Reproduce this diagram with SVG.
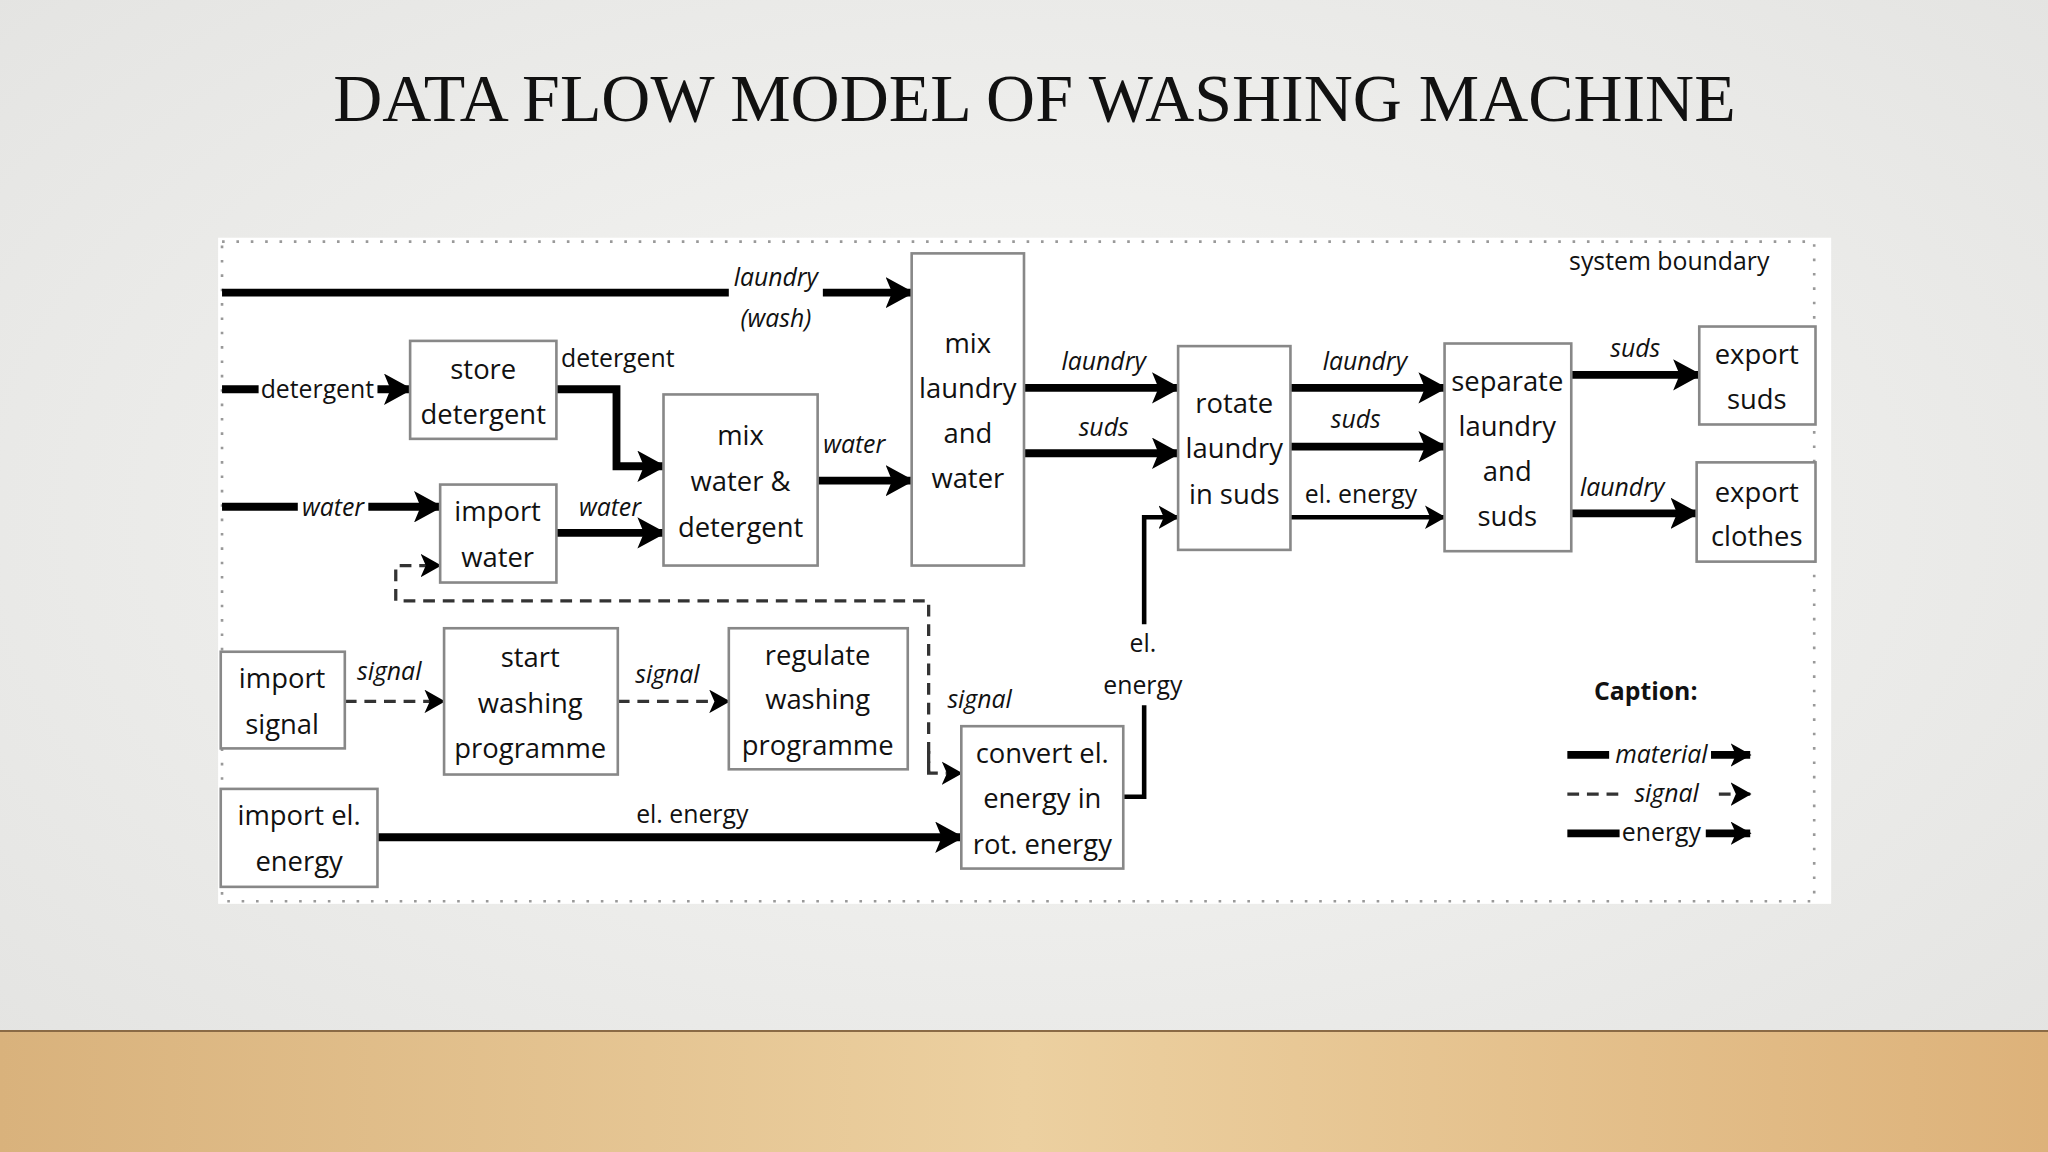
<svg xmlns="http://www.w3.org/2000/svg" width="2048" height="1152" viewBox="0 0 2048 1152">
<defs>
<radialGradient id="bg" cx="0.5" cy="0.45" r="0.75"><stop offset="0" stop-color="#f7f7f5"/><stop offset="1" stop-color="#e2e2e0"/></radialGradient>
<linearGradient id="wood" x1="0" y1="0" x2="1" y2="0"><stop offset="0" stop-color="#d9b27c"/><stop offset="0.5" stop-color="#ecd0a0"/><stop offset="1" stop-color="#ddb27a"/></linearGradient>
<marker id="ah" markerUnits="userSpaceOnUse" viewBox="0 0 22 24" refX="20" refY="12" markerWidth="22" markerHeight="24" orient="auto"><path d="M0,0 L22,12 L0,24 L5,12 Z" fill="#000"/></marker>
<marker id="as" markerUnits="userSpaceOnUse" viewBox="0 0 16 18" refX="15" refY="9" markerWidth="16" markerHeight="18" orient="auto"><path d="M0,0 L16,9 L0,18 L4,9 Z" fill="#000"/></marker>
<style>
.box{fill:#fff;stroke:#888;stroke-width:2}
.t{font-family:"Open Sans","Liberation Sans",sans-serif;font-size:21px;fill:#111;text-anchor:middle}
.l{font-family:"Open Sans","Liberation Sans",sans-serif;font-size:19px;fill:#111;text-anchor:middle}
.i{font-style:italic}
.m{stroke:#000;stroke-width:6;fill:none}
.e{stroke:#000;stroke-width:3.5;fill:none}
.s{stroke:#333;stroke-width:2.5;fill:none;stroke-dasharray:9 6}
.b{stroke:#999;stroke-width:2;fill:none;stroke-dasharray:2 9}
</style>
</defs>
<rect width="2048" height="1152" fill="url(#bg)"/>
<rect y="1030" width="2048" height="122" fill="url(#wood)"/>
<line x1="0" y1="1031" x2="2048" y2="1031" stroke="#8a6a45" stroke-width="2"/>
<g transform="scale(1.30612)">
<text x="792" y="93" font-family="Liberation Serif,serif" font-size="52" text-anchor="middle" fill="#111">DATA FLOW MODEL OF WASHING MACHINE</text>
<rect x="167" y="182" width="1235" height="510" fill="#fff"/>
<g id="boundary">
<path class="b" d="M170,185 H1389 V690 H170 Z"/>
<text class="l" x="1278" y="207">system boundary</text>
</g>
<g id="connectors">
<line class="m" x1="170" y1="224" x2="558" y2="224"/>
<line class="m" x1="630" y1="224" x2="698" y2="224" marker-end="url(#ah)"/>
<text class="l i" x="594" y="219">laundry</text><text class="l i" x="594" y="250">(wash)</text>
<line class="m" x1="170" y1="298" x2="198" y2="298"/>
<line class="m" x1="289" y1="298" x2="314" y2="298" marker-end="url(#ah)"/>
<text class="l" x="243" y="305">detergent</text>
<path class="m" d="M426,298 H472 V357 H508" marker-end="url(#ah)"/>
<text class="l" x="473" y="281">detergent</text>
<line class="m" x1="170" y1="388" x2="228" y2="388"/>
<line class="m" x1="282" y1="388" x2="337" y2="388" marker-end="url(#ah)"/>
<text class="l i" x="255" y="395">water</text>
<line class="m" x1="426" y1="408" x2="508" y2="408" marker-end="url(#ah)"/>
<text class="l i" x="467" y="395">water</text>
<line class="m" x1="626" y1="368" x2="698" y2="368" marker-end="url(#ah)"/>
<text class="l i" x="654" y="347">water</text>
<line class="m" x1="784" y1="297" x2="902" y2="297" marker-end="url(#ah)"/>
<text class="l i" x="845" y="283">laundry</text>
<line class="m" x1="784" y1="347" x2="902" y2="347" marker-end="url(#ah)"/>
<text class="l i" x="845" y="334">suds</text>
<line class="m" x1="988" y1="297" x2="1106" y2="297" marker-end="url(#ah)"/>
<text class="l i" x="1045" y="283">laundry</text>
<line class="m" x1="988" y1="342" x2="1106" y2="342" marker-end="url(#ah)"/>
<text class="l i" x="1038" y="328">suds</text>
<line class="e" x1="988" y1="396" x2="1106" y2="396" marker-end="url(#as)"/>
<text class="l" x="1042" y="385">el. energy</text>
<line class="m" x1="1203" y1="287" x2="1301" y2="287" marker-end="url(#ah)"/>
<text class="l i" x="1252" y="273">suds</text>
<line class="m" x1="1203" y1="393" x2="1299" y2="393" marker-end="url(#ah)"/>
<text class="l i" x="1242" y="380">laundry</text>
<path class="e" d="M860,610 H876 V540"/>
<path class="e" d="M876,478 V396 H902" marker-end="url(#as)"/>
<text class="l" x="875" y="499">el.</text><text class="l" x="875" y="531">energy</text>
<line class="m" x1="289" y1="641" x2="736" y2="641" marker-end="url(#ah)"/>
<text class="l" x="530" y="630">el. energy</text>
<line class="s" x1="264" y1="537" x2="340" y2="537" marker-end="url(#as)"/>
<text class="l i" x="298" y="521">signal</text>
<line class="s" x1="473" y1="537" x2="558" y2="537" marker-end="url(#as)"/>
<text class="l i" x="511" y="523">signal</text>
<path class="s" d="M711,592 V460 H303 V433 H337" marker-end="url(#as)"/>
<path class="s" d="M711,575 V592 H736" marker-end="url(#as)"/>
<text class="l i" x="750" y="542">signal</text>
</g>
<g id="store-detergent"><rect class="box" x="314" y="261" width="112" height="75"/><text class="t" x="370" y="290">store</text><text class="t" x="370" y="325">detergent</text></g>
<g id="mix-water-detergent"><rect class="box" x="508" y="302" width="118" height="131"/><text class="t" x="567" y="341">mix</text><text class="t" x="567" y="376">water &amp;</text><text class="t" x="567" y="411">detergent</text></g>
<g id="import-water"><rect class="box" x="337" y="371" width="89" height="75"/><text class="t" x="381" y="399">import</text><text class="t" x="381" y="434">water</text></g>
<g id="mix-laundry-water"><rect class="box" x="698" y="194" width="86" height="239"/><text class="t" x="741" y="270">mix</text><text class="t" x="741" y="305">laundry</text><text class="t" x="741" y="339">and</text><text class="t" x="741" y="374">water</text></g>
<g id="rotate"><rect class="box" x="902" y="265" width="86" height="156"/><text class="t" x="945" y="316">rotate</text><text class="t" x="945" y="351">laundry</text><text class="t" x="945" y="386">in suds</text></g>
<g id="separate"><rect class="box" x="1106" y="263" width="97" height="159"/><text class="t" x="1154" y="299">separate</text><text class="t" x="1154" y="334">laundry</text><text class="t" x="1154" y="368">and</text><text class="t" x="1154" y="403">suds</text></g>
<g id="export-suds"><rect class="box" x="1301" y="250" width="89" height="75"/><text class="t" x="1345" y="279">export</text><text class="t" x="1345" y="313">suds</text></g>
<g id="export-clothes"><rect class="box" x="1299" y="354" width="91" height="76"/><text class="t" x="1345" y="384">export</text><text class="t" x="1345" y="418">clothes</text></g>
<g id="import-signal"><rect class="box" x="169" y="499" width="95" height="74"/><text class="t" x="216" y="527">import</text><text class="t" x="216" y="562">signal</text></g>
<g id="start-washing"><rect class="box" x="340" y="481" width="133" height="112"/><text class="t" x="406" y="511">start</text><text class="t" x="406" y="546">washing</text><text class="t" x="406" y="580">programme</text></g>
<g id="regulate-washing"><rect class="box" x="558" y="481" width="137" height="108"/><text class="t" x="626" y="509">regulate</text><text class="t" x="626" y="543">washing</text><text class="t" x="626" y="578">programme</text></g>
<g id="convert"><rect class="box" x="736" y="556" width="124" height="109"/><text class="t" x="798" y="584">convert el.</text><text class="t" x="798" y="619">energy in</text><text class="t" x="798" y="654">rot. energy</text></g>
<g id="import-el-energy"><rect class="box" x="169" y="604" width="120" height="75"/><text class="t" x="229" y="632">import el.</text><text class="t" x="229" y="667">energy</text></g>
<g id="caption">
<text class="l" x="1260" y="536" font-weight="bold" font-size="16">Caption:</text>
<line class="m" x1="1200" y1="578" x2="1232" y2="578"/><text class="l i" x="1272" y="584">material</text><line class="m" x1="1310" y1="578" x2="1340" y2="578" marker-end="url(#as)"/>
<line class="s" x1="1200" y1="608" x2="1240" y2="608"/><text class="l i" x="1276" y="614">signal</text><line class="s" x1="1316" y1="608" x2="1340" y2="608" marker-end="url(#as)"/>
<line class="m" x1="1200" y1="638" x2="1240" y2="638"/><text class="l" x="1272" y="644">energy</text><line class="m" x1="1306" y1="638" x2="1340" y2="638" marker-end="url(#as)"/>
</g>
</g>
</svg>
